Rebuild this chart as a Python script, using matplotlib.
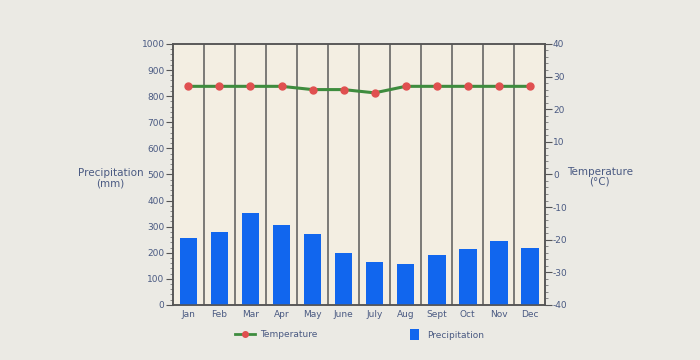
import matplotlib
matplotlib.use("Agg")
import matplotlib.pyplot as plt
from matplotlib.ticker import MultipleLocator
from matplotlib.lines import Line2D
from matplotlib.patches import Patch

months = ["Jan", "Feb", "Mar", "Apr", "May", "June", "July", "Aug", "Sept", "Oct", "Nov", "Dec"]
precipitation = [256, 279, 351, 308, 273, 199, 166, 157, 190, 216, 245, 219]
temperature = [27, 27, 27, 27, 26, 26, 25, 27, 27, 27, 27, 27]
precip_ticks = [0, 100, 200, 300, 400, 500, 600, 700, 800, 900, 1000]
temp_ticks = [-40, -30, -20, -10, 0, 10, 20, 30, 40]
temp_tick_labels = ["-40", "-30", "-20", "-10", "0", "10", "20", "30", "40"]

txt = "#4a5a82"
fig = plt.figure(figsize=(7, 3.6), dpi=100, facecolor="#ebeae4")
ax = fig.add_axes([0.247, 0.153, 0.532, 0.725])
ax.set_facecolor("#f3eee2")

x = list(range(len(months)))
ax.bar(x, precipitation, width=0.57, color="#1166ee", zorder=3)
ax.set_xlim(-0.5, 11.5)
ax.set_ylim(0, 1000)
for i in range(1, 12):
    ax.axvline(i - 0.5, color="#5a5a5a", lw=1.1, zorder=2)

ax.set_yticks(precip_ticks)
ax.yaxis.set_minor_locator(MultipleLocator(20))
ax.set_xticks(x)
ax.set_xticklabels(months)
ax.tick_params(axis="x", length=0, labelsize=6.5, labelcolor=txt, pad=4)
ax.tick_params(axis="y", which="major", length=5, color="#555", labelsize=6.5, labelcolor=txt, pad=1)
ax.tick_params(axis="y", which="minor", length=2.5, color="#777")
for s in ax.spines.values():
    s.set_color("#555")
    s.set_linewidth(1.1)

ax2 = ax.twinx()
ax2.plot(x, temperature, color="#3e8c3e", lw=2.2, marker="o", markersize=5,
         markerfacecolor="#e05050", markeredgecolor="#e05050", zorder=4)
ax2.set_ylim(-40, 40)
ax2.set_yticks(temp_ticks)
ax2.set_yticklabels(temp_tick_labels)
ax2.yaxis.set_minor_locator(MultipleLocator(2))
ax2.tick_params(axis="y", which="major", length=5, color="#555", labelsize=6.5, labelcolor=txt, pad=0.5)
ax2.tick_params(axis="y", which="minor", length=2.5, color="#777")
for s in ax2.spines.values():
    s.set_color("#555")
    s.set_linewidth(1.1)

fig.text(0.158, 0.505, "Precipitation\n(mm)", ha="center", va="center",
         fontsize=7.5, color=txt, linespacing=0.95)
fig.text(0.857, 0.508, "Temperature\n(°C)", ha="center", va="center",
         fontsize=7.5, color=txt, linespacing=0.95)

h1 = Line2D([], [], color="#3e8c3e", lw=2, marker="o", markersize=4,
            markerfacecolor="#e05050", markeredgecolor="#e05050")
fig.legend([h1], ["Temperature"], loc="center", bbox_to_anchor=(0.395, 0.07),
           frameon=False, fontsize=6.5, labelcolor=txt, handlelength=2.2, handletextpad=0.6)
h2 = Patch(facecolor="#1166ee")
fig.legend([h2], ["Precipitation"], loc="center", bbox_to_anchor=(0.638, 0.07),
           frameon=False, fontsize=6.5, labelcolor=txt, handlelength=1.1, handleheight=1.5,
           handletextpad=0.8)

fig.savefig("out.png", dpi=100, facecolor=fig.get_facecolor())
